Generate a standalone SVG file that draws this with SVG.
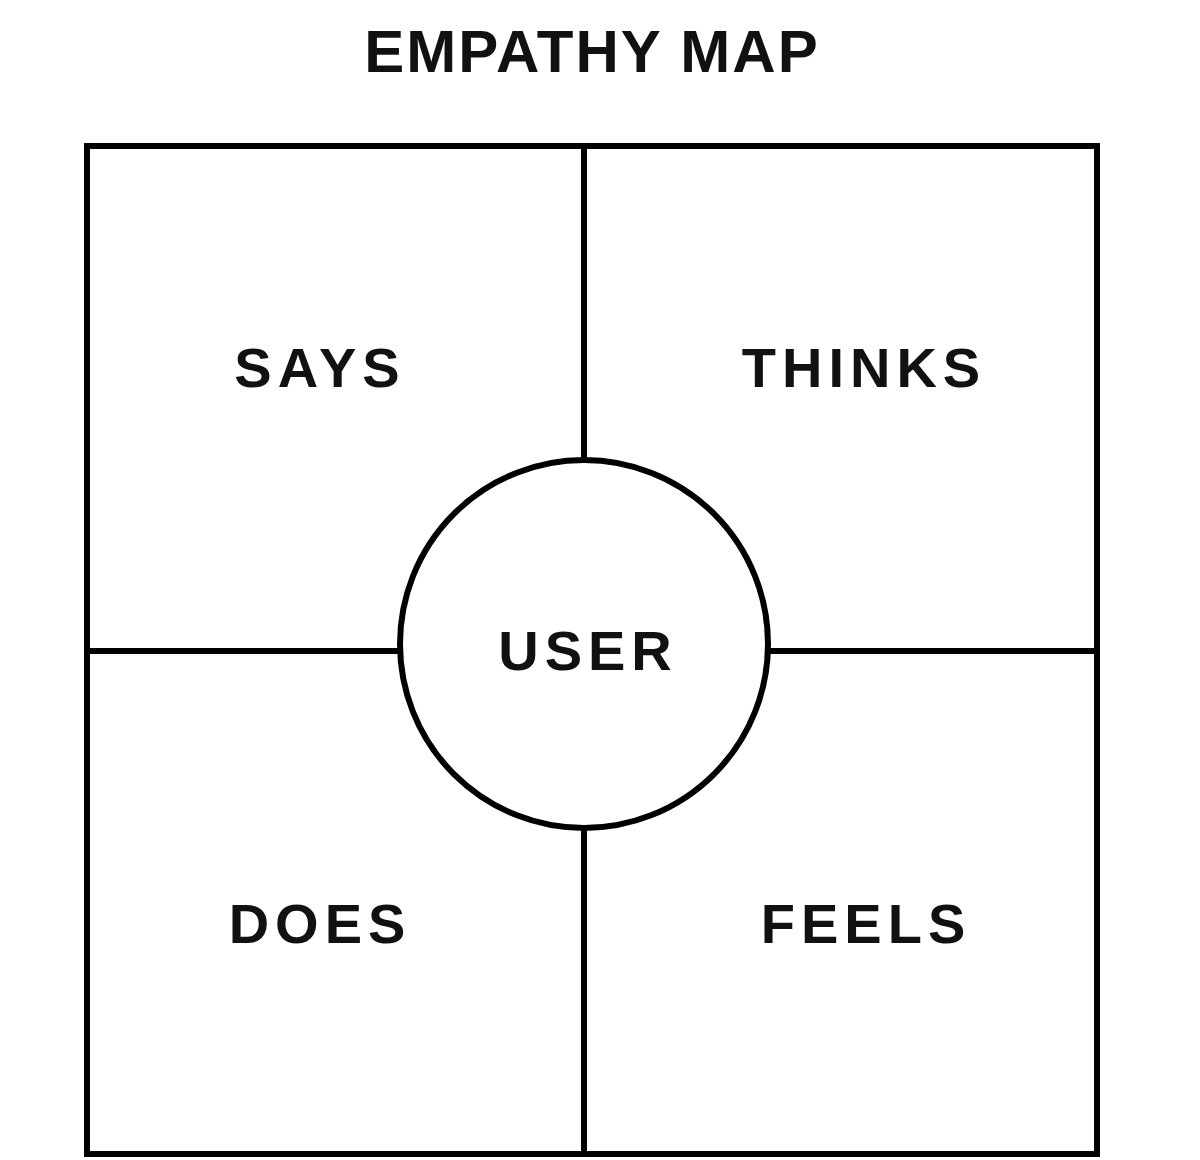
<svg xmlns="http://www.w3.org/2000/svg" width="1200" height="1160" viewBox="0 0 1200 1160">
<style>
.ln{stroke:#000;stroke-width:6;fill:none}
.t{font-family:"Liberation Sans",Arial,sans-serif;font-weight:bold;fill:#111;text-anchor:middle}
.lab{font-size:56px;letter-spacing:6px}
</style>
<rect width="1200" height="1160" fill="#fff"/>
<text class="t" x="592" y="72" font-size="60" letter-spacing="2">EMPATHY MAP</text>
<g id="frame"><rect class="ln" x="87" y="146" width="1010" height="1008" stroke-width="7"/></g>
<g id="connectors">
<line class="ln" x1="584" y1="146" x2="584" y2="460"/>
<line class="ln" x1="584" y1="828" x2="584" y2="1154"/>
<line class="ln" x1="87" y1="651" x2="400" y2="651"/>
<line class="ln" x1="768" y1="651" x2="1097" y2="651"/>
</g>
<g id="says"><text class="t lab" x="320" y="387">SAYS</text></g>
<g id="thinks"><text class="t lab" x="864" y="387">THINKS</text></g>
<g id="does"><text class="t lab" x="320" y="943">DOES</text></g>
<g id="feels"><text class="t lab" x="866" y="943">FEELS</text></g>
<g id="user"><circle class="ln" cx="584" cy="644" r="184"/><text class="t lab" x="588" y="670">USER</text></g>
</svg>
